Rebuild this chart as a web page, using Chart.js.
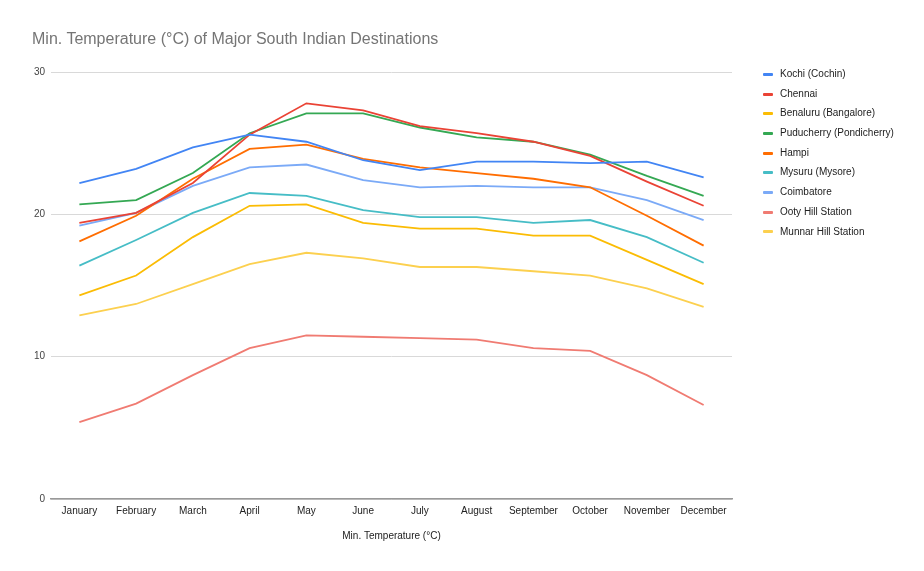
<!DOCTYPE html>
<html>
<head>
<meta charset="utf-8">
<script src="https://cdn.jsdelivr.net/npm/chart.js@4.4.1/dist/chart.umd.min.js"></script>
<style>
    body {
        margin: 0;
        background: #ffffff;
        font-family: "Liberation Sans", Arial, sans-serif;
    }
    .wrap {
        position: relative;
        width: 924px;
        height: 571px;
    }
    #title {
        position: absolute;
        left: 32px;
        top: 30px;
        font-size: 16px;
        color: #757575;
        white-space: nowrap;
    }
    #legend {
        position: absolute;
        left: 763px;
        top: 67px;
        font-size: 10px;
        color: #222222;
    }
    #legend .item {
        height: 19.7px;
        line-height: 14px;
        white-space: nowrap;
    }
    #legend .swatch {
        display: inline-block;
        width: 10px;
        height: 3px;
        margin-right: 7px;
        vertical-align: middle;
        border-radius: 1px;
    }
</style>
</head>
<body>
<div class="wrap">
    <canvas id="chart" width="924" height="571"></canvas>
    <div id="title">Min. Temperature (°C) of Major South Indian Destinations</div>
    <div id="legend"></div>
</div>
<script>
// Monate
const months = ['January', 'February', 'March', 'April', 'May', 'June', 'July', 'August', 'September', 'October', 'November', 'December'];

// Werte je Ort (°C)
const kochi      = [22.2, 23.2, 24.7, 25.6, 25.1, 23.8, 23.1, 23.7, 23.7, 23.6, 23.7, 22.6];
const chennai    = [19.4, 20.1, 22.2, 25.6, 27.8, 27.3, 26.2, 25.7, 25.1, 24.1, 22.3, 20.6];
const bengaluru  = [14.3, 15.7, 18.4, 20.6, 20.7, 19.4, 19.0, 19.0, 18.5, 18.5, 16.8, 15.1];
const puducherry = [20.7, 21.0, 22.9, 25.7, 27.1, 27.1, 26.1, 25.4, 25.1, 24.2, 22.7, 21.3];
const hampi      = [18.1, 19.9, 22.5, 24.6, 24.9, 23.9, 23.3, 22.9, 22.5, 21.9, 19.9, 17.8];
const mysuru     = [16.4, 18.2, 20.1, 21.5, 21.3, 20.3, 19.8, 19.8, 19.4, 19.6, 18.4, 16.6];
const coimbatore = [19.2, 20.1, 22.0, 23.3, 23.5, 22.4, 21.9, 22.0, 21.9, 21.9, 21.0, 19.6];
const ooty       = [5.4, 6.7, 8.7, 10.6, 11.5, 11.4, 11.3, 11.2, 10.6, 10.4, 8.7, 6.6];
const munnar     = [12.9, 13.7, 15.1, 16.5, 17.3, 16.9, 16.3, 16.3, 16.0, 15.7, 14.8, 13.5];

const yTicks = [0, 10, 20, 30];

const seriesNames  = ['Kochi (Cochin)', 'Chennai', 'Benaluru (Bangalore)', 'Puducherry (Pondicherry)', 'Hampi', 'Mysuru (Mysore)', 'Coimbatore', 'Ooty Hill Station', 'Munnar Hill Station'];
const seriesValues = [kochi, chennai, bengaluru, puducherry, hampi, mysuru, coimbatore, ooty, munnar];
const seriesColors = ['#4285F4', '#EA4335', '#FBBC04', '#34A853', '#FF6D01', '#46BDC6', '#7BAAF7', '#F07B72', '#FCD04F'];

const datasets = seriesNames.map((name, i) => ({
    label: name,
    data: seriesValues[i],
    borderColor: seriesColors[i],
    backgroundColor: seriesColors[i],
    borderWidth: 1.8,
    pointRadius: 0,
    tension: 0,
    fill: false
}));

// Legende als HTML
const legend = document.getElementById('legend');
seriesNames.forEach((name, i) => {
    const row = document.createElement('div');
    row.className = 'item';
    row.innerHTML = '<span class="swatch" style="background:' + seriesColors[i] + '"></span>' + name;
    legend.appendChild(row);
});

const ctx = document.getElementById('chart').getContext('2d');
new Chart(ctx, {
    type: 'line',
    data: { labels: months, datasets: datasets },
    options: {
        responsive: false,
        animation: false,
        layout: { padding: { left: 0, right: 192, top: 72, bottom: 0 } },
        plugins: {
            legend: { display: false },
            title: { display: false },
            tooltip: { enabled: false }
        },
        scales: {
            x: {
                offset: true,
                grid: { display: false, drawTicks: false },
                border: { display: true, color: '#999999', width: 1.5 },
                ticks: {
                    color: '#222222',
                    font: { family: '"Liberation Sans", Arial', size: 10 },
                    padding: 6,
                    maxRotation: 0,
                    autoSkip: false
                },
                title: {
                    display: true,
                    text: 'Min. Temperature (°C)',
                    color: '#222222',
                    font: { family: '"Liberation Sans", Arial', size: 10 },
                    padding: { top: 4, bottom: 29 }
                },
                afterFit: (scale) => { scale.height = 72; }
            },
            y: {
                min: 0,
                max: 30,
                afterBuildTicks: (scale) => { scale.ticks = yTicks.map(v => ({ value: v })); },
                grid: { color: '#d9d9d9', drawTicks: false, lineWidth: 1 },
                border: { display: false },
                ticks: {
                    color: '#444444',
                    font: { family: '"Liberation Sans", Arial', size: 10 },
                    padding: 6
                },
                afterFit: (scale) => { scale.width = 51; }
            }
        }
    }
});
</script>
</body>
</html>
